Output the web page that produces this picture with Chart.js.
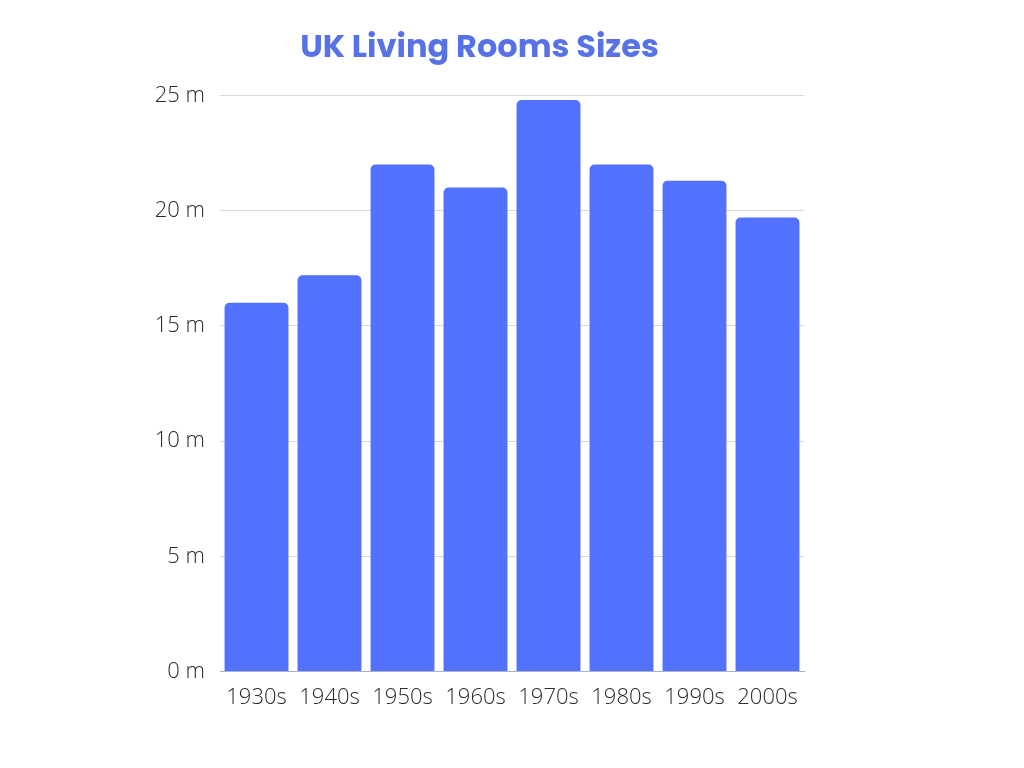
<!DOCTYPE html>
<html>
<head>
<meta charset="utf-8">
<script src="https://cdn.jsdelivr.net/npm/chart.js@4/dist/chart.umd.min.js"></script>
<style>
  body { margin: 0; background: #ffffff; }
  #wrap { width: 1024px; height: 768px; position: relative; }
</style>
</head>
<body>
<div id="wrap"><canvas id="chart"></canvas></div>
<script>
// values
const decades = ['1930s', '1940s', '1950s', '1960s', '1970s', '1980s', '1990s', '2000s'];
const roomSizes = [16, 17.2, 22, 21, 24.8, 22, 21.3, 19.7];
const yTicks = [0, 5, 10, 15, 20, 25];

const ctx = document.getElementById('chart').getContext('2d');

new Chart(ctx, {
    type: 'bar',
    data: {
        labels: decades,
        datasets: [{
            label: 'Living room size',
            data: roomSizes,
            backgroundColor: '#5271ff',
            borderRadius: 5,
            borderSkipped: 'start',
            barPercentage: 0.875,
            categoryPercentage: 1.0
        }]
    },
    options: {
        responsive: true,
        maintainAspectRatio: false,
        animation: false,
        layout: {
            padding: { top: 30, left: 155, right: 220, bottom: 44 }
        },
        plugins: {
            legend: { display: false },
            tooltip: { enabled: false },
            title: {
                display: true,
                text: 'UK Living Rooms Sizes',
                color: '#5672e6',
                font: { family: 'Poppins, "Open Sans", sans-serif', size: 32, weight: 'bold' },
                padding: { top: 0, bottom: 27 }
            }
        },
        scales: {
            x: {
                grid: { display: false, drawTicks: false },
                border: { display: true, color: '#a9b0cc' },
                ticks: {
                    color: '#2b2b2b',
                    padding: 13,
                    font: { family: '"Open Sans", sans-serif', size: 22, weight: '300' }
                }
            },
            y: {
                min: 0,
                max: 25,
                afterBuildTicks: (scale) => { scale.ticks = yTicks.map(v => ({ value: v })); },
                afterFit: (scale) => { scale.width = 65; },
                grid: { color: '#d9d9d9', drawTicks: false },
                border: { display: false },
                ticks: {
                    color: '#2b2b2b',
                    padding: 15,
                    font: { family: '"Open Sans", sans-serif', size: 22, weight: '300' },
                    callback: (v) => v + ' m'
                }
            }
        }
    }
});
</script>
</body>
</html>
